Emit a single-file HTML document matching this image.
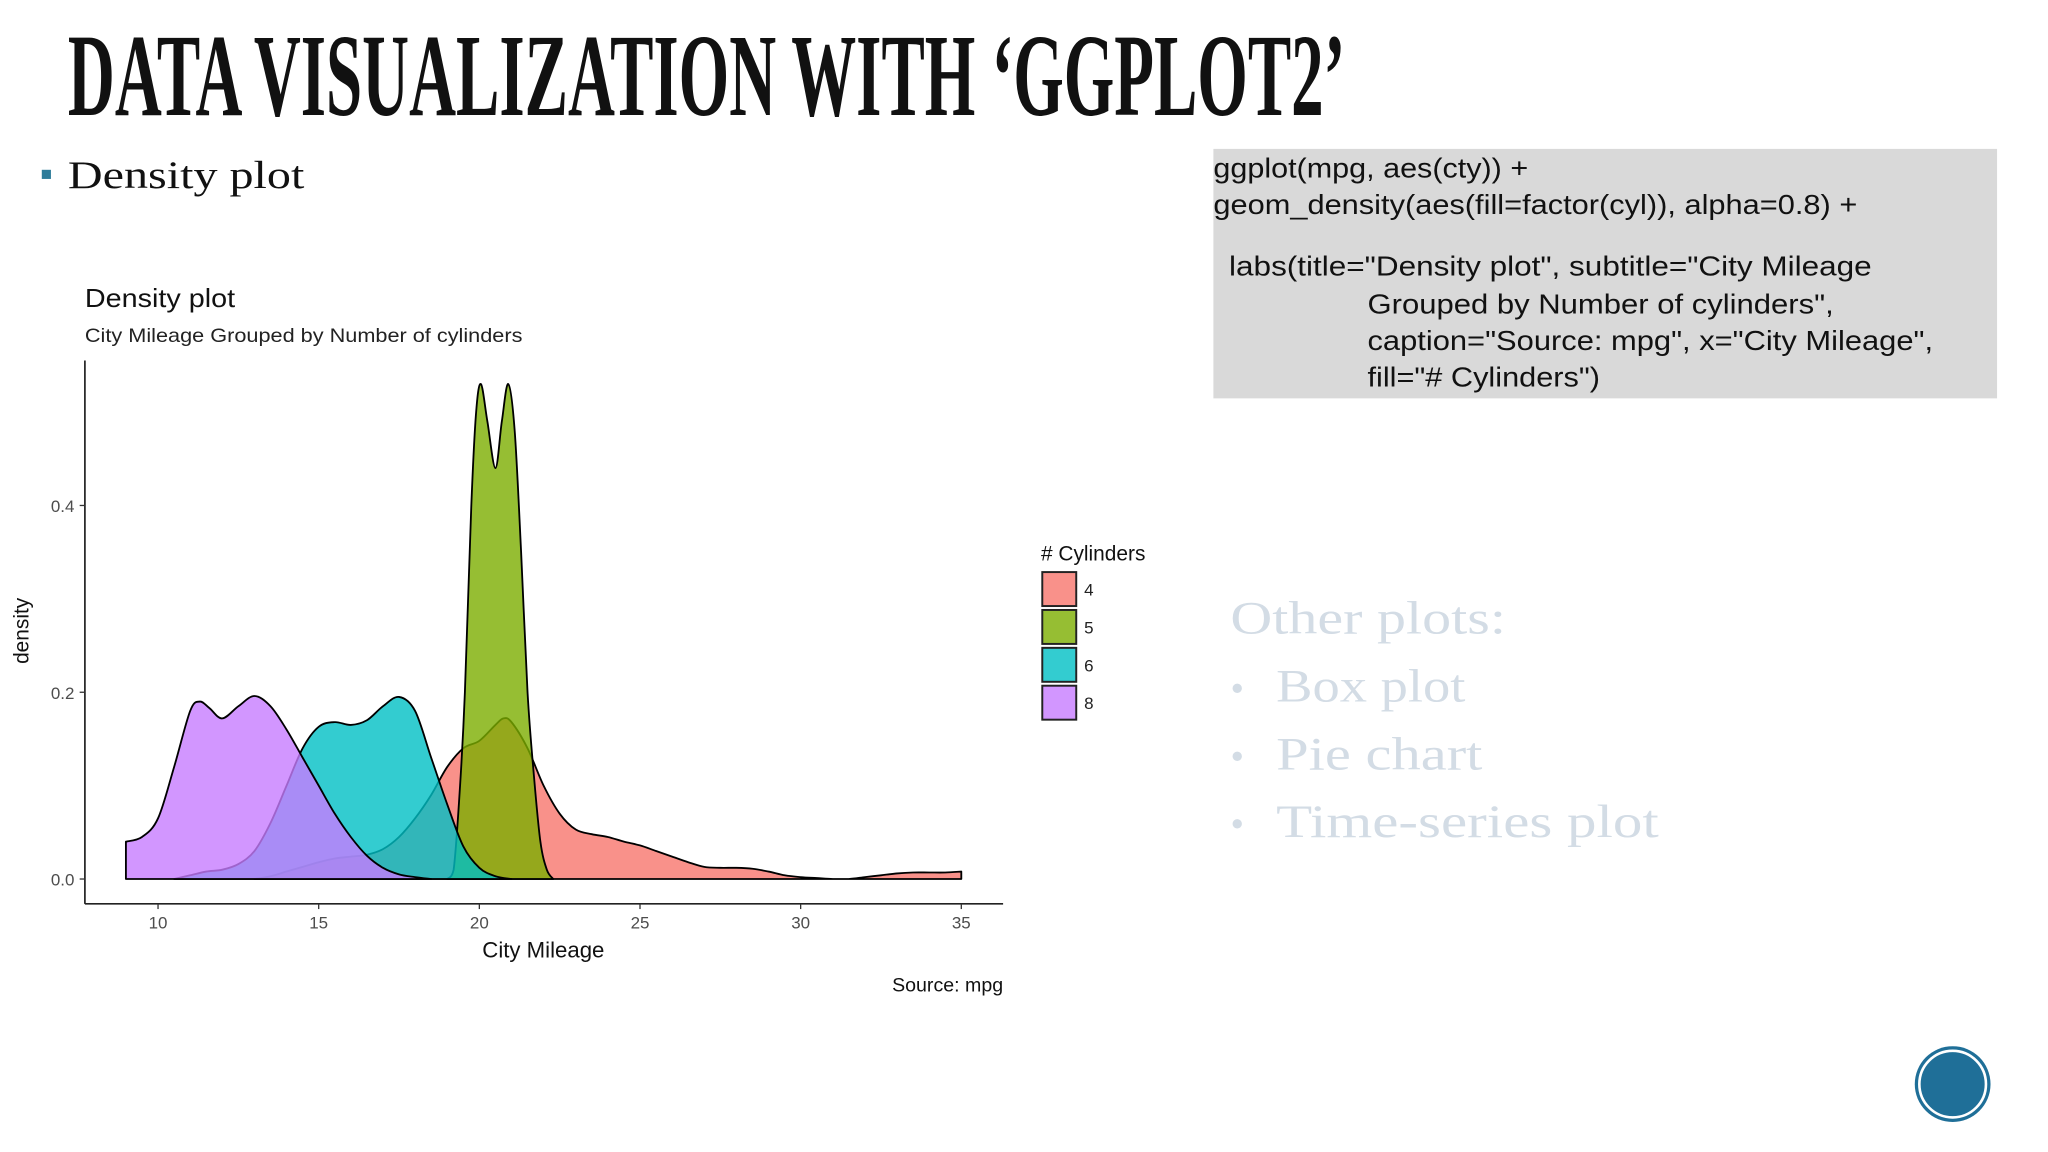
<!DOCTYPE html>
<html><head><meta charset="utf-8"><style>
html,body{margin:0;padding:0;background:#fff;width:2048px;height:1152px;overflow:hidden}
svg{display:block}
.sans{font-family:"Liberation Sans",sans-serif}
.serif{font-family:"Liberation Serif",serif}
</style></head><body>
<svg id="page" width="2048" height="1152" viewBox="0 0 1568 882" xmlns="http://www.w3.org/2000/svg">
<rect x="0" y="0" width="1568" height="882" fill="#fff"/>
<text class="serif" x="52" y="88" font-weight="bold" font-size="90" textLength="978" lengthAdjust="spacingAndGlyphs" fill="#111">DATA VISUALIZATION WITH ‘GGPLOT2’</text>
<rect x="32" y="130" width="7" height="7" fill="#2e7c9a"/>
<text class="serif" x="52" y="144" font-size="30" textLength="181" lengthAdjust="spacingAndGlyphs" fill="#111">Density plot</text>

<g class="sans">
<rect x="929" y="114" width="600" height="191" fill="#d9d9d9"/>
<text x="929" y="136" font-size="21" textLength="241" lengthAdjust="spacingAndGlyphs" fill="#111">ggplot(mpg, aes(cty)) +</text>
<text x="929" y="164" font-size="21" textLength="493" lengthAdjust="spacingAndGlyphs" fill="#111">geom_density(aes(fill=factor(cyl)), alpha=0.8) +</text>
<text x="941" y="211" font-size="21" textLength="492" lengthAdjust="spacingAndGlyphs" fill="#111">labs(title="Density plot", subtitle="City Mileage</text>
<text x="1047" y="240" font-size="21" textLength="357" lengthAdjust="spacingAndGlyphs" fill="#111">Grouped by Number of cylinders",</text>
<text x="1047" y="268" font-size="21" textLength="433" lengthAdjust="spacingAndGlyphs" fill="#111">caption="Source: mpg", x="City Mileage",</text>
<text x="1047" y="296" font-size="21" textLength="178" lengthAdjust="spacingAndGlyphs" fill="#111">fill="# Cylinders")</text>
</g>

<g class="serif" fill="#d3dce5">
<text x="942" y="485" font-size="36" textLength="211" lengthAdjust="spacingAndGlyphs">Other plots:</text>
<text x="942" y="537" font-size="30">•</text>
<text x="977" y="537" font-size="36" textLength="145" lengthAdjust="spacingAndGlyphs">Box plot</text>
<text x="942" y="589" font-size="30">•</text>
<text x="977" y="589" font-size="36" textLength="158" lengthAdjust="spacingAndGlyphs">Pie chart</text>
<text x="942" y="641" font-size="30">•</text>
<text x="977" y="641" font-size="36" textLength="293" lengthAdjust="spacingAndGlyphs">Time-series plot</text>
</g>

<g>
<circle cx="1495" cy="830" r="29" fill="#1f6f98"/>
<circle cx="1495" cy="830" r="25.5" fill="none" stroke="#fff" stroke-width="2"/>
</g>

<g id="chart" class="sans">
<text x="65" y="235" font-size="20" fill="#111" textLength="115" lengthAdjust="spacingAndGlyphs">Density plot</text>
<text x="65" y="262" font-size="15" fill="#222" textLength="335" lengthAdjust="spacingAndGlyphs">City Mileage Grouped by Number of cylinders</text>
<g id="marks"></g>
<line x1="65" y1="276" x2="65" y2="692" stroke="#222" stroke-width="1.3"/>
<line x1="65" y1="692" x2="768" y2="692" stroke="#222" stroke-width="1.3"/>
<g id="ticks"></g>
<text transform="translate(22,483) rotate(-90)" text-anchor="middle" font-size="16" fill="#111">density</text>
<text x="416" y="733" text-anchor="middle" font-size="17" fill="#111">City Mileage</text>
<text x="768" y="759" text-anchor="end" font-size="15" fill="#111">Source: mpg</text>
<g>
<text x="797" y="429" font-size="16" fill="#111"># Cylinders</text>
<g id="legend"></g>
</g>
</g>
</svg>
<script>
var groups = ["4","5","6","8"];
var colors = ["#F8766D","#7CAE00","#00BFC4","#C77CFF"];
var x4 = [13,13.5,14,14.5,15,15.5,16,16.5,17,17.5,18,18.5,19,19.5,20,20.5,20.75,21,21.5,22,22.5,23,23.5,24,24.5,25,25.5,26,26.5,27,27.5,28,28.5,29,29.5,30,30.5,31,31.5,32,32.5,33,33.5,34,34.5,35];
var y4 = [0,0.003,0.008,0.013,0.018,0.022,0.024,0.026,0.032,0.045,0.065,0.09,0.12,0.14,0.148,0.165,0.172,0.168,0.14,0.1,0.07,0.053,0.048,0.045,0.04,0.036,0.03,0.024,0.018,0.013,0.012,0.012,0.011,0.008,0.004,0.002,0.001,0,0,0.002,0.004,0.006,0.007,0.007,0.007,0.008];
var x5 = [19.0,19.2,19.4,19.55,19.75,19.9,20.05,20.25,20.5,20.7,20.9,21.1,21.3,21.5,21.7,21.9,22.1,22.3];
var y5 = [0,0.01,0.1,0.2,0.4,0.5,0.53,0.49,0.44,0.49,0.53,0.48,0.35,0.2,0.11,0.04,0.01,0];
var x6 = [10.5,11,11.5,12,12.5,13,13.5,14,14.5,15,15.5,16,16.5,17,17.5,18,18.5,19,19.5,20,20.5,21];
var y6 = [0,0.004,0.008,0.01,0.016,0.03,0.06,0.1,0.14,0.163,0.168,0.165,0.17,0.185,0.195,0.18,0.13,0.08,0.035,0.012,0.003,0];
var x8 = [9,9.5,10,10.5,11,11.3,11.6,12,12.5,13,13.5,14,14.5,15,15.5,16,16.5,17,17.5,18,18.5];
var y8 = [0.04,0.045,0.065,0.12,0.18,0.19,0.183,0.172,0.185,0.196,0.185,0.16,0.13,0.1,0.07,0.045,0.025,0.012,0.005,0.002,0];
var xTicks = [10,15,20,25,30,35];
var yTicks = [0.0,0.2,0.4];
var yTickLabels = ["0.0","0.2","0.4"];

function sx(v){ return 121 + (v-10)*24.6; }
function sy(v){ return 673 - v*715; }
var NS = "http://www.w3.org/2000/svg";
function smooth(xs, ys){
  var p = xs.map(function(x,i){ return [sx(x), sy(ys[i])]; });
  var base = sy(0);
  var d = "M"+sx(xs[0]).toFixed(2)+","+base.toFixed(2)+"L"+p[0][0].toFixed(2)+","+p[0][1].toFixed(2);
  for (var i=0; i < p.length-1; i++){
    var p0=p[Math.max(0,i-1)], p1=p[i], p2=p[i+1], p3=p[Math.min(p.length-1,i+2)];
    var c1x=p1[0]+(p2[0]-p0[0])/6, c1y=p1[1]+(p2[1]-p0[1])/6;
    var c2x=p2[0]-(p3[0]-p1[0])/6, c2y=p2[1]-(p3[1]-p1[1])/6;
    c1y=Math.min(c1y,base); c2y=Math.min(c2y,base);
    d+="C"+c1x.toFixed(2)+","+c1y.toFixed(2)+" "+c2x.toFixed(2)+","+c2y.toFixed(2)+" "+p2[0].toFixed(2)+","+p2[1].toFixed(2);
  }
  d+="L"+sx(xs[xs.length-1]).toFixed(2)+","+base.toFixed(2)+"Z";
  return d;
}
var series = [[x4,y4],[x5,y5],[x6,y6],[x8,y8]];
var marks = document.getElementById("marks");
series.forEach(function(s,i){
  var path = document.createElementNS(NS,"path");
  path.setAttribute("d", smooth(s[0], s[1]));
  path.setAttribute("fill", colors[i]);
  path.setAttribute("fill-opacity","0.8");
  path.setAttribute("stroke","#000");
  path.setAttribute("stroke-width","1.4");
  path.setAttribute("stroke-linejoin","round");
  
  
  marks.appendChild(path);
});
var ticks = document.getElementById("ticks");
xTicks.forEach(function(t){
  var l = document.createElementNS(NS,"line");
  l.setAttribute("x1",sx(t)); l.setAttribute("x2",sx(t));
  l.setAttribute("y1",692); l.setAttribute("y2",696);
  l.setAttribute("stroke","#333");
  
  
  ticks.appendChild(l);
  var tx = document.createElementNS(NS,"text");
  tx.setAttribute("x",sx(t)); tx.setAttribute("y",711);
  tx.setAttribute("text-anchor","middle"); tx.setAttribute("font-size","13"); tx.setAttribute("fill","#4d4d4d");
  tx.textContent = t;
  
  
  ticks.appendChild(tx);
});
yTicks.forEach(function(t,i){
  var l = document.createElementNS(NS,"line");
  l.setAttribute("x1",61); l.setAttribute("x2",65);
  l.setAttribute("y1",sy(t)); l.setAttribute("y2",sy(t));
  l.setAttribute("stroke","#333");
  
  
  ticks.appendChild(l);
  var tx = document.createElementNS(NS,"text");
  tx.setAttribute("x",57); tx.setAttribute("y",sy(t)+5);
  tx.setAttribute("text-anchor","end"); tx.setAttribute("font-size","13"); tx.setAttribute("fill","#4d4d4d");
  tx.textContent = yTickLabels[i];
  
  
  ticks.appendChild(tx);
});
var legend = document.getElementById("legend");
groups.forEach(function(g,i){
  var r = document.createElementNS(NS,"rect");
  r.setAttribute("x",798); r.setAttribute("y",438+i*29);
  r.setAttribute("width",26); r.setAttribute("height",26);
  r.setAttribute("fill",colors[i]); r.setAttribute("fill-opacity","0.8");
  r.setAttribute("stroke","#222"); r.setAttribute("stroke-width","1.5");
  
  
  legend.appendChild(r);
  var tx = document.createElementNS(NS,"text");
  tx.setAttribute("x",830); tx.setAttribute("y",456+i*29);
  tx.setAttribute("font-size","13"); tx.setAttribute("fill","#222");
  tx.textContent = g;
  
  
  legend.appendChild(tx);
});
</script>
</body></html>
